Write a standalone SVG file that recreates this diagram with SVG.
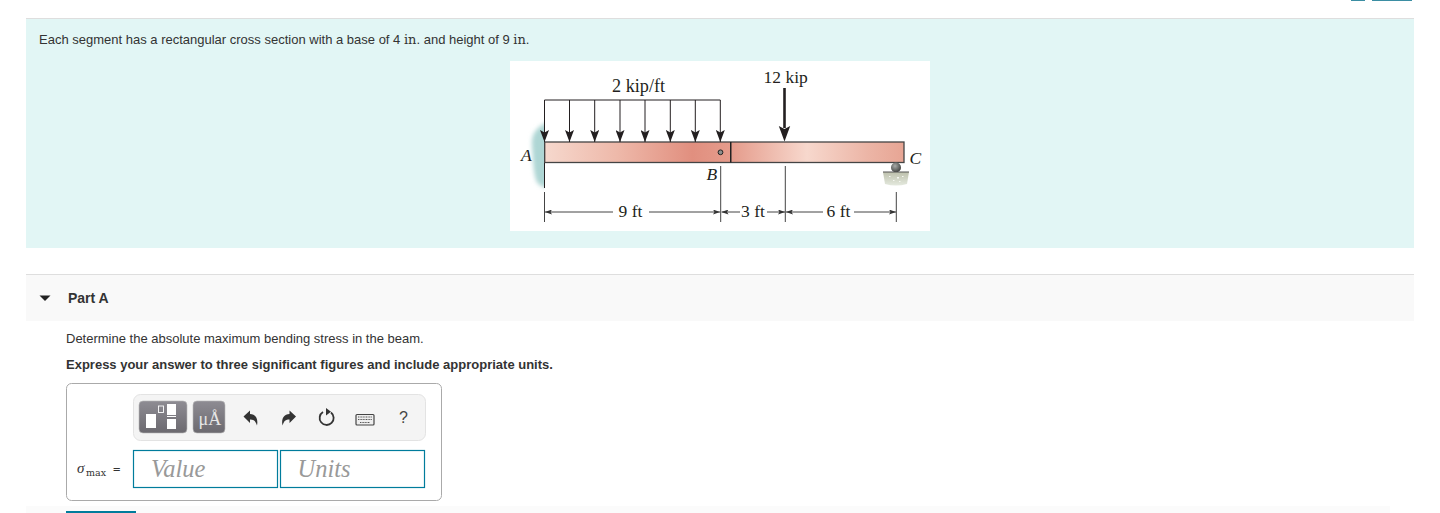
<svg xmlns="http://www.w3.org/2000/svg" width="1440" height="513" viewBox="0 0 1440 513">
<style>
.ui{font-family:"Liberation Sans",Arial,sans-serif;font-size:13px;fill:#333}
.b{font-weight:700}
.fig{font-family:"Liberation Serif","Times New Roman",serif;font-size:17.500px;fill:#231f20}
.it{font-style:italic}
.mi{font-family:"DejaVu Serif",serif;font-size:13px}
.ph{font-family:"Liberation Serif","Times New Roman",serif;font-style:italic;font-size:24.500px;fill:#999}
.ln{stroke:#231f20;stroke-width:1;fill:none}
.dim{stroke:#444;stroke-width:1;fill:none}
.inp{fill:#fff;stroke:#007c9c;stroke-width:1.200}
.ico{fill:#333}
.btn{fill:url(#btnG);stroke:#bbb;stroke-width:.6}
</style>
<defs>
<linearGradient id="beamG" gradientUnits="userSpaceOnUse" x1="545" y1="0" x2="904" y2="0">
<stop offset="0" stop-color="#f6d8cd"/><stop offset=".2" stop-color="#eeb9aa"/><stop offset=".41" stop-color="#e18f7f"/><stop offset=".52" stop-color="#e59c8c"/><stop offset=".73" stop-color="#f7d8cd"/><stop offset=".9" stop-color="#ecb5a6"/><stop offset="1" stop-color="#e7a594"/>
</linearGradient>
<linearGradient id="btnG" x1="0" y1="0" x2="0" y2="1"><stop offset="0" stop-color="#8e8c93"/><stop offset="1" stop-color="#6b696f"/></linearGradient>
<linearGradient id="baseG" x1="0" y1="0" x2="0" y2="1"><stop offset="0" stop-color="#bdc0ac"/><stop offset="1" stop-color="#e4e9de"/></linearGradient>
<radialGradient id="rollG" cx=".4" cy=".35" r=".7"><stop offset="0" stop-color="#a9aba8"/><stop offset="1" stop-color="#3a3c3a"/></radialGradient>
<filter id="soft" x="-30%" y="-10%" width="160%" height="120%"><feGaussianBlur stdDeviation="2"/></filter>
<clipPath id="wallClip"><rect x="520" y="115" width="25" height="80"/></clipPath>
<marker id="hd" markerUnits="userSpaceOnUse" markerWidth="12" markerHeight="9" refX="12" refY="4.500" orient="auto" viewBox="0 0 12 9"><path d="M12 4.500L0 0L2.500 4.500L0 9Z" fill="#231f20"/></marker>
<marker id="dh" markerUnits="userSpaceOnUse" markerWidth="7" markerHeight="5" refX="7" refY="2.500" orient="auto" viewBox="0 0 7 5"><path d="M7 2.500L0 0L1.500 2.500L0 5Z" fill="#333"/></marker>
</defs>

<rect width="1440" height="513" fill="#fff"/>
<rect x="1351" y="0" width="14" height="1" fill="#3b8ea3"/><rect x="1372" y="0" width="40" height="1" fill="#3b8ea3"/>

<g id="problem-panel">
<rect x="26" y="18" width="1388" height="230" fill="#e2f6f5"/>
<rect x="26" y="18" width="1388" height="1" fill="#dedede"/>
<text class="ui" x="39" y="44">Each segment has a rectangular cross section with a base of 4 <tspan class="mi">in</tspan>. and height of 9 <tspan class="mi">in</tspan>.</text>
<rect x="510" y="61" width="420" height="170" fill="#fff"/>
</g>

<g id="wall-A">
<g clip-path="url(#wallClip)"><path d="M548 122C536 127 531 134 532 146C533 156 533 170 536 180C538 185 542 187 548 188Z" fill="#aed6d4" filter="url(#soft)"/></g>
<rect x="544" y="122" width="1" height="66" fill="#231f20"/>
<text class="fig it" x="521" y="161">A</text>
</g>

<g id="beam-AB-BC">
<rect x="544.700" y="142" width="359.300" height="20.500" fill="url(#beamG)" stroke="#444" stroke-width="1.300"/>
<rect x="730" y="142" width="1.500" height="20.500" fill="#222"/>
</g>

<g id="hinge-B">
<circle cx="720.500" cy="152.300" r="2.400" fill="#8d8f8d" stroke="#222" stroke-width="1"/>
<text class="fig it" x="706.500" y="180">B</text>
</g>

<g id="roller-C">
<circle cx="896" cy="167.500" r="5" fill="url(#rollG)"/>
<path d="M883 172H909L907 184Q896 187 885 184Z" fill="url(#baseG)"/>
<path d="M889 176h1.500v1h-1.500zM897 177h2v1.500h-2zM902 176h1.500v1h-1.500zM893 180h1.500v1h-1.500zM899 181h1.500v1h-1.500z" fill="#f6f7f2"/>
<rect x="883" y="171.500" width="26" height="1" fill="#555"/>
<text class="fig it" x="909.500" y="164">C</text>
</g>

<g id="connectors">
<path class="ln" d="M544.500 100H720.300"/>
<path class="ln" d="M544.500 100V142" marker-end="url(#hd)"/>
<path class="ln" d="M569.500 100V142" marker-end="url(#hd)"/>
<path class="ln" d="M594.700 100V142" marker-end="url(#hd)"/>
<path class="ln" d="M620 100V142" marker-end="url(#hd)"/>
<path class="ln" d="M645 100V142" marker-end="url(#hd)"/>
<path class="ln" d="M670.300 100V142" marker-end="url(#hd)"/>
<path class="ln" d="M695.300 100V142" marker-end="url(#hd)"/>
<path class="ln" d="M720.300 100V142" marker-end="url(#hd)"/>
<path d="M784.500 88V128" stroke="#231f20" stroke-width="2.600" fill="none"/>
<path d="M784.500 141.500L778.800 126L784.500 129L790.200 126Z" fill="#231f20"/>
<path class="dim" d="M544.500 192V222M720.700 166V222M785.300 166V222M896.300 192V222"/>
<path class="dim" d="M613 212H545" marker-end="url(#dh)"/>
<path class="dim" d="M649 212H720" marker-end="url(#dh)"/>
<path class="dim" d="M740 212H721.500" marker-end="url(#dh)"/>
<path class="dim" d="M767 212H785" marker-end="url(#dh)"/>
<path class="dim" d="M823 212H786" marker-end="url(#dh)"/>
<path class="dim" d="M854 212H896" marker-end="url(#dh)"/>
</g>

<g id="labels">
<text class="fig" x="612" y="92" style="font-size:18.200px">2 kip/ft</text>
<text class="fig" x="763.500" y="83">12 kip</text>
<text class="fig" x="618.500" y="217">9 ft</text>
<text class="fig" x="741" y="217">3 ft</text>
<text class="fig" x="826.500" y="217">6 ft</text>
</g>

<g id="part-a">
<rect x="26" y="274" width="1388" height="47" fill="#f9f9f9"/>
<rect x="26" y="274" width="1388" height="1" fill="#dedede"/>
<path d="M39.500 295.500H50.500L45 301Z" fill="#222"/>
<text class="ui b" x="68" y="303" style="font-size:14px">Part A</text>
<text class="ui" x="66" y="343">Determine the absolute maximum bending stress in the beam.</text>
<text class="ui b" x="66" y="369">Express your answer to three significant figures and include appropriate units.</text>
</g>

<rect x="26" y="506" width="1364" height="7" fill="#fbfbfb"/>

<g id="answer-box">
<rect x="66.500" y="383.500" width="375" height="117" rx="5" fill="#fff" stroke="#aaa"/>
<rect x="133.500" y="394.500" width="292" height="46" rx="7" fill="#f4f4f4" stroke="#e3e3e3"/>
<rect class="btn" x="139" y="401" width="48" height="32" rx="4"/>
<rect x="146" y="414" width="10" height="14" fill="#fff"/>
<rect x="158.500" y="406" width="5" height="6.500" fill="none" stroke="#fff" stroke-width=".9"/>
<rect x="167" y="404" width="9" height="11" fill="#fff"/>
<rect x="167" y="416" width="9" height="1" fill="#fff"/>
<rect x="167" y="419" width="9" height="10" fill="#fff"/>
<rect class="btn" x="193" y="401" width="32" height="32" rx="4"/>
<text x="198.500" y="425" font-family="Liberation Serif,serif" font-size="18" fill="#e6e6e6">μÅ</text>

<path class="ico" d="M243.500 416.500L250 410.500V414C255 414 258.500 418 257 425.500C255.500 421 254 419.500 250 419.500V423Z"/>
<path class="ico" d="M296 416.500L289.500 410.500V414C284.500 414 281 418 282.500 425.500C284 421 285.500 419.500 289.500 419.500V423Z"/>
<path d="M323 412A7 7 0 1 0 331 412.500" fill="none" stroke="#333" stroke-width="1.800"/>
<path class="ico" d="M326 408L331 411.800L326 415.500Z"/>
<rect x="356" y="414.500" width="18" height="10.500" rx="1" fill="#eee" stroke="#444" stroke-width="1.200"/>
<path d="M358 417H372M358 419.500H372M360 422.500H370" stroke="#555" stroke-width="1.100" stroke-dasharray="1 .6"/>
<text x="399" y="423" font-family="Liberation Sans,sans-serif" font-size="16" fill="#444">?</text>

<text x="77" y="473" font-family="Liberation Serif,serif" font-style="italic" font-size="15" fill="#333">σ</text>
<text x="86" y="476" font-family="DejaVu Serif,serif" font-size="9.500" fill="#333">max</text>
<text x="112.500" y="473" font-family="DejaVu Sans,sans-serif" font-size="10" fill="#333">=</text>
<rect class="inp" x="133.500" y="450.500" width="144" height="37"/>
<text class="ph" x="151" y="477">Value</text>
<rect class="inp" x="280.500" y="450.500" width="144" height="37"/>
<text class="ph" x="297.500" y="477">Units</text>
</g>
<rect x="66" y="511" width="70" height="2" fill="#007c9c"/>
</svg>
